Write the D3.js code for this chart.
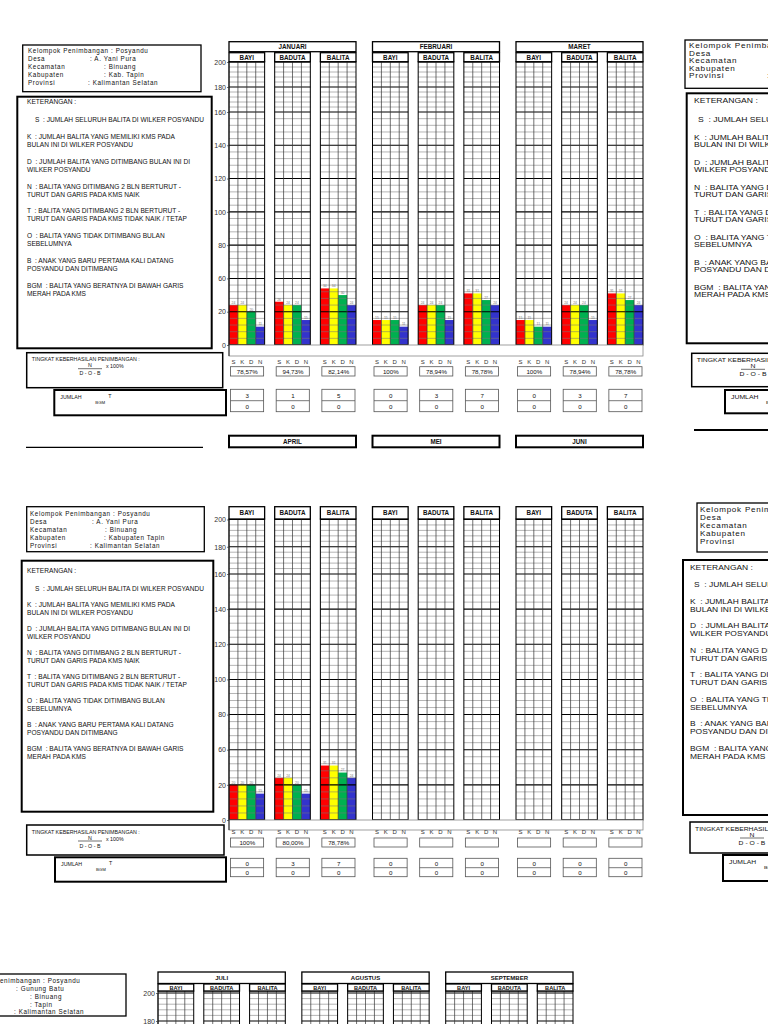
<!DOCTYPE html>
<html><head><meta charset="utf-8">
<script src="https://cdn.jsdelivr.net/npm/d3@7"></script>
<style>
body{margin:0;background:#fff}
svg{display:block}
text{font-family:"Liberation Sans",Arial,sans-serif;white-space:pre}
</style>
</head><body><svg id="c" width="768" height="1024"></svg>
<script>
// ---------- DATA ----------
const monthsTop = ["JANUARI","FEBRUARI","MARET"];
const monthsMid = ["APRIL","MEI","JUNI"];
const monthsBottom = ["JULI","AGUSTUS","SEPTEMBER"];
const ageGroups = ["BAYI","BADUTA","BALITA"];
const seriesKeys = ["S","K","D","N"];
const seriesColors = ["#ff0000","#ffff00","#00b050","#3333cc"];

const valuesJanuari  = [[24,24,20,11],[26,24,24,15],[34,34,30,24]];
const valuesFebruari = [[15,15,15,11],[24,24,24,15],[31,31,27,24]];
const valuesMaret    = [[15,15,11,11],[24,24,24,15],[31,31,27,24]];
const valuesApril    = [[20,20,20,15],[24,24,20,15],[31,31,27,24]];
const valuesMei = [];
const valuesJuni = [];

const percentTop = ["78,57%","94,73%","82,14%","100%","78,94%","78,78%","100%","78,94%","78,78%"];
const tTop   = [3,1,5,0,3,7,0,3,7];
const bgmTop = [0,0,0,0,0,0,0,0,0];
const percentMid = ["100%","80,00%","78,78%","","","","","",""];
const tMid   = [0,3,7,0,0,0,0,0,0];
const bgmMid = [0,0,0,0,0,0,0,0,0];

const tickValues = [0,20,40,60,80,100,120,140,160,180];
const tickLabels = ["0","20","60","80","100","120","140","160","180","200"];

const infoTitle = "Kelompok Penimbangan : Posyandu";
const infoLabels = ["Desa","Kecamatan","Kabupaten","Provinsi"];
const infoValuesTop = [": A. Yani Pura",": Binuang",": Kab. Tapin",": Kalimantan Selatan"];
const infoValuesMid = [": A. Yani Pura",": Binuang",": Kabupaten Tapin",": Kalimantan Selatan"];
const infoValuesBottom = [": Gunung Batu",": Binuang",": Tapin",": Kalimantan Selatan"];

const keteranganTitle = "KETERANGAN :";
const keteranganItems = [
  ["S  : JUMLAH SELURUH BALITA DI WILKER POSYANDU"],
  ["K  : JUMLAH BALITA YANG MEMILIKI KMS PADA","BULAN INI DI WILKER POSYANDU"],
  ["D  : JUMLAH BALITA YANG DITIMBANG BULAN INI DI","WILKER POSYANDU"],
  ["N  : BALITA YANG DITIMBANG 2 BLN BERTURUT -","TURUT DAN GARIS PADA KMS NAIK"],
  ["T  : BALITA YANG DITIMBANG 2 BLN BERTURUT -","TURUT DAN GARIS PADA KMS TIDAK NAIK / TETAP"],
  ["O  : BALITA YANG TIDAK DITIMBANG BULAN","SEBELUMNYA"],
  ["B  : ANAK YANG BARU PERTAMA KALI DATANG","POSYANDU DAN DITIMBANG"],
  ["BGM  : BALITA YANG BERATNYA DI BAWAH GARIS","MERAH PADA KMS"]
];
const tingkatTitle = "TINGKAT KEBERHASILAN PENIMBANGAN :";

// ---------- HELPERS ----------
const svg = d3.select("#c");
svg.append("rect").attr("width",768).attr("height",1024).attr("fill","#fff");

function txt(g,x,y,s,o={}){
  const t=g.append("text").attr("x",x).attr("y",y).text(s)
    .attr("font-size",o.size||6.6).attr("fill",o.fill||"#111")
    .attr("text-anchor",o.anchor||"start").attr("dominant-baseline","central");
  if(o.bold) t.attr("font-weight","bold");
  if(o.ls) t.attr("letter-spacing",o.ls);
  if(o.sx && o.sx!==1) t.attr("transform",`translate(${x},0) scale(${o.sx},1) translate(${-x},0)`);
  return t;
}
function box(g,x,y,w,h,sw,stroke){
  return g.append("rect").attr("x",x).attr("y",y).attr("width",w).attr("height",h)
    .attr("fill","none").attr("stroke",stroke||"#000").attr("stroke-width",sw||1);
}
function hline(g,x1,x2,y,sw,c){g.append("line").attr("x1",x1).attr("x2",x2).attr("y1",y).attr("y2",y).attr("stroke",c||"#000").attr("stroke-width",sw||1);}
function vline(g,x,y1,y2,sw,c){g.append("line").attr("x1",x).attr("x2",x).attr("y1",y1).attr("y2",y2).attr("stroke",c||"#000").attr("stroke-width",sw||1);}

// ---------- LEFT / RIGHT PANELS ----------
function panel(p){
  const g=svg.append("g"); const sx=p.sx||1;
  if(p.info){
    const I=p.info;
    box(g,I.x,I.y,I.w,I.h,1.3);
    txt(g,I.tx,I.ly[0],infoTitle,{size:6.3,ls:0.6,sx});
    infoLabels.forEach((l,i)=>{
      txt(g,I.tx,I.ly[i+1],l,{size:6.3,ls:0.6,sx});
      txt(g,I.tx+I.vx[i]*sx,I.ly[i+1],p.infoValues[i],{size:6.3,ls:0.6,sx});
    });
  }
  if(p.ket){
    const K=p.ket;
    box(g,K.x,K.y,K.w,K.h,2);
    txt(g,K.tx,K.ty,keteranganTitle,{sx});
    let cy=K.sy;
    keteranganItems.forEach((lines,i)=>{
      lines.forEach((l,j)=>{
        txt(g,(i===0?K.tx+K.si:K.tx),cy,l,{sx});
        if(j<lines.length-1) cy+=K.ls;
      });
      cy+=K.pg;
    });
  }
  if(p.ting){
    const T=p.ting;
    box(g,T.x,T.y,T.w,T.h,1.5);
    txt(g,T.x+5,T.y+6.5,tingkatTitle,{size:5.3,sx});
    txt(g,T.fx,T.y+12.5,"N",{size:5.3,anchor:"middle",sx});
    hline(g,T.fx-12,T.fx+12,T.y+16,0.7,"#333");
    txt(g,T.fx,T.y+20.5,"D - O - B",{size:5.3,anchor:"middle",sx});
    txt(g,T.fx+16,T.y+13.5,"x 100%",{size:5.3,sx});
  }
  if(p.jml){
    const J=p.jml;
    box(g,J.x,J.y,J.w,J.h,2);
    txt(g,J.x+6,J.y+6.5,"JUMLAH",{size:5.3,sx});
    txt(g,J.x+54,J.y+6,"T",{size:5.3,sx});
    txt(g,J.x+41,J.y+12.5,"BGM",{size:4.3,sx});
  }
  if(p.line) hline(g,p.line.x1,p.line.x2,p.line.y,p.line.sw||1.2);
}

// top-left
panel({infoValues:infoValuesTop,
  info:{x:22.7,y:45,w:178.3,h:46.7,tx:28,ly:[50,58,66,74,82],vx:[62,76,76,60]},
  ket:{x:17.3,y:96.7,w:194.4,h:251.6,tx:27,si:8,ty:101.7,sy:119.3,ls:8,pg:16.9},
  ting:{x:26.7,y:352.7,w:196,h:35,fx:90},
  jml:{x:54.3,y:390,w:171.7,h:25.3},
  line:{x1:26,x2:203,y:447.3}});
// middle-left
panel({infoValues:infoValuesMid,
  info:{x:26.7,y:506.7,w:177.6,h:45,tx:30,ly:[513,521,529,537,545],vx:[62,75,74,60]},
  ket:{x:21.7,y:560.7,w:191.6,h:251,tx:27,si:8,ty:570.7,sy:588.7,ls:7.8,pg:16.2},
  ting:{x:26.7,y:825,w:197.3,h:30,fx:90},
  jml:{x:55,y:857.3,w:171,h:24.4}});
// top-right (partial)
panel({infoValues:infoValuesTop,sx:1.3,
  info:{x:685,y:40,w:120,h:48.3,tx:689,ly:[46,53.5,61,68.5,76],vx:[62,76,76,60]},
  ket:{x:686.7,y:93.3,w:120,h:250,tx:694,si:4,ty:101,sy:120,ls:7,pg:18},
  ting:{x:691.7,y:353.3,w:120,h:33.4,fx:753},
  jml:{x:725,y:390,w:80,h:23.3},
  line:{x1:694,x2:768,y:430,sw:2}});
// middle-right (partial)
panel({infoValues:infoValuesMid,sx:1.28,
  info:{x:697,y:503,w:120,h:49,tx:700,ly:[510,518,526,534,542],vx:[62,75,74,60]},
  ket:{x:683,y:560,w:120,h:255,tx:690,si:4,ty:568,sy:585,ls:8,pg:16.5},
  ting:{x:690,y:822,w:120,h:31,fx:752},
  jml:{x:723,y:855,w:80,h:26}});
// bottom (partial)
panel({infoValues:infoValuesBottom,
  info:{x:-52,y:974,w:178,h:42,tx:-40,ly:[980,988,996,1004,1011],vx:[56,70,70,54]}});

// ---------- CHART SECTIONS ----------
function monthBand(months,x0,x1){
  return d3.scaleBand().domain(months).range([x0,x1]).paddingInner(0.115);
}
function section(c){
  const g=svg.append("g");
  const xM=monthBand(c.months,c.x0,c.x1);
  const xG=d3.scaleBand().domain(ageGroups).range([0,xM.bandwidth()]).paddingInner(0.22);
  const xS=d3.scaleBand().domain(seriesKeys).range([0,xG.bandwidth()]);
  const y=d3.scaleLinear().domain([0,140,180]).range([c.base,c.y140,c.gridTop]);
  const cells=[];
  c.months.forEach((m,mi)=>ageGroups.forEach((a,ai)=>{
    const mv=c.values[mi]||[];
    cells.push({m,a,idx:mi*3+ai,x:xM(m)+xG(a),vals:mv[ai]||null});
  }));
  const w=xG.bandwidth();
  // bars
  cells.forEach(cell=>{
    if(!cell.vals) return;
    seriesKeys.forEach((s,si)=>{
      const v=cell.vals[si];
      g.append("rect").attr("x",cell.x+xS(s)).attr("y",y(v))
        .attr("width",xS.bandwidth()).attr("height",y(0)-y(v)).attr("fill",seriesColors[si]);
    });
  });
  // grid
  const gridVals=d3.range(0,181,4);
  cells.forEach(cell=>{
    gridVals.forEach(v=>{
      const major=v%20===0;
      hline(g,cell.x,cell.x+w,y(v),major?1.1:0.55,major?"#000":"#777");
    });
    seriesKeys.slice(1).forEach(s=>vline(g,cell.x+xS(s),c.subBottom,c.base,0.7,"#333"));
    box(g,cell.x,c.subBottom,w,c.base-c.subBottom,1);
    if(cell.vals){
      seriesKeys.forEach((s,si)=>{
        const v=cell.vals[si];
        txt(g,cell.x+xS(s)+xS.bandwidth()/2,y(v)-2.2,String(v),{size:3.4,fill:"#777",anchor:"middle"});
      });
    }
  });
  // bottom strip and left edge
  if(c.stripH){
    g.append("rect").attr("x",c.x0).attr("y",c.base).attr("width",c.x1-c.x0).attr("height",c.stripH)
      .attr("fill","#fff").attr("stroke","#888").attr("stroke-width",0.8);
  }
  vline(g,c.x0,c.gridTop,c.base+(c.stripH||0),1,"#222");
  // axis
  const ax=g.append("g").attr("transform",`translate(${c.x0},0)`)
    .call(d3.axisLeft(y).tickValues(tickValues).tickFormat((d,i)=>tickLabels[i]).tickSize(2).tickPadding(1));
  ax.select(".domain").remove();
  ax.selectAll("text").attr("font-size",7).attr("fill","#333").attr("font-family",'"Liberation Sans",Arial,sans-serif');
  ax.selectAll("line").attr("stroke","#333").attr("stroke-width",0.7);
  // month headers
  if(c.monthTop!=null){
    c.months.forEach(m=>{
      g.append("rect").attr("x",xM(m)).attr("y",c.monthTop).attr("width",xM.bandwidth()).attr("height",c.monthBottom-c.monthTop)
        .attr("fill","#fff").attr("stroke","#000").attr("stroke-width",1.3);
      txt(g,xM(m)+xM.bandwidth()/2,(c.monthTop+c.monthBottom)/2,m,{size:c.monthFont||6.3,bold:true,anchor:"middle"});
    });
  }
  // sub headers
  cells.forEach(cell=>{
    g.append("rect").attr("x",cell.x).attr("y",c.subTop).attr("width",w).attr("height",c.subBottom-c.subTop)
      .attr("fill","#fff").attr("stroke","#000").attr("stroke-width",1.3);
    txt(g,cell.x+w/2,(c.subTop+c.subBottom)/2,cell.a,{size:c.subFont||6.3,bold:true,anchor:"middle"});
  });
  // footer
  if(c.footer){
    const F=c.footer;
    cells.forEach(cell=>{
      seriesKeys.forEach(s=>txt(g,cell.x+xS(s)+xS.bandwidth()/2,F.skdnY,s,{size:6,fill:"#333",anchor:"middle"}));
      box(g,cell.x+1.5,F.pctY0,w-2.5,F.pctY1-F.pctY0,0.8,"#555");
      txt(g,cell.x+w/2+0.5,(F.pctY0+F.pctY1)/2,F.pct[cell.idx],{size:6.2,anchor:"middle"});
      box(g,cell.x+1.5,F.tbY0,w-2.5,F.tbY1-F.tbY0,0.8,"#555");
      hline(g,cell.x+1.5,cell.x+w-1,F.tbMid,0.8,"#555");
      txt(g,cell.x+w/2+0.5,(F.tbY0+F.tbMid)/2,String(F.t[cell.idx]),{size:6.2,anchor:"middle"});
      txt(g,cell.x+w/2+0.5,(F.tbMid+F.tbY1)/2,String(F.bgm[cell.idx]),{size:6.2,anchor:"middle"});
    });
  }
}

section({months:monthsTop,values:[valuesJanuari,valuesFebruari,valuesMaret],
  x0:229,x1:643,monthTop:41.7,monthBottom:51.7,subTop:52.7,subBottom:61.7,gridTop:62,y140:112,base:345,stripH:11,
  footer:{skdnY:361.7,pctY0:366.7,pctY1:376,tbY0:389.3,tbMid:400.7,tbY1:411.7,pct:percentTop,t:tTop,bgm:bgmTop}});

// month row APRIL / MEI / JUNI
(function(){
  const g=svg.append("g");
  const xMid=monthBand(monthsMid,229,643);
  monthsMid.forEach(m=>{
    box(g,xMid(m),435.7,xMid.bandwidth(),11.6,2);
    txt(g,xMid(m)+xMid.bandwidth()/2,441.5,m,{size:6.3,bold:true,anchor:"middle"});
  });
})();

section({months:monthsMid,values:[valuesApril,valuesMei,valuesJuni],
  x0:229,x1:643,subTop:506.7,subBottom:519,gridTop:519.5,y140:574,base:820,stripH:10,
  footer:{skdnY:831.7,pctY0:838,pctY1:847,tbY0:858.3,tbMid:867.7,tbY1:876.7,pct:percentMid,t:tMid,bgm:bgmMid}});

section({months:monthsBottom,values:[],
  x0:158,x1:573,monthTop:972,monthBottom:983.5,subTop:984,subBottom:991,gridTop:993,y140:1049,base:1294,
  monthFont:6,subFont:5.6});
</script>
</body></html>
